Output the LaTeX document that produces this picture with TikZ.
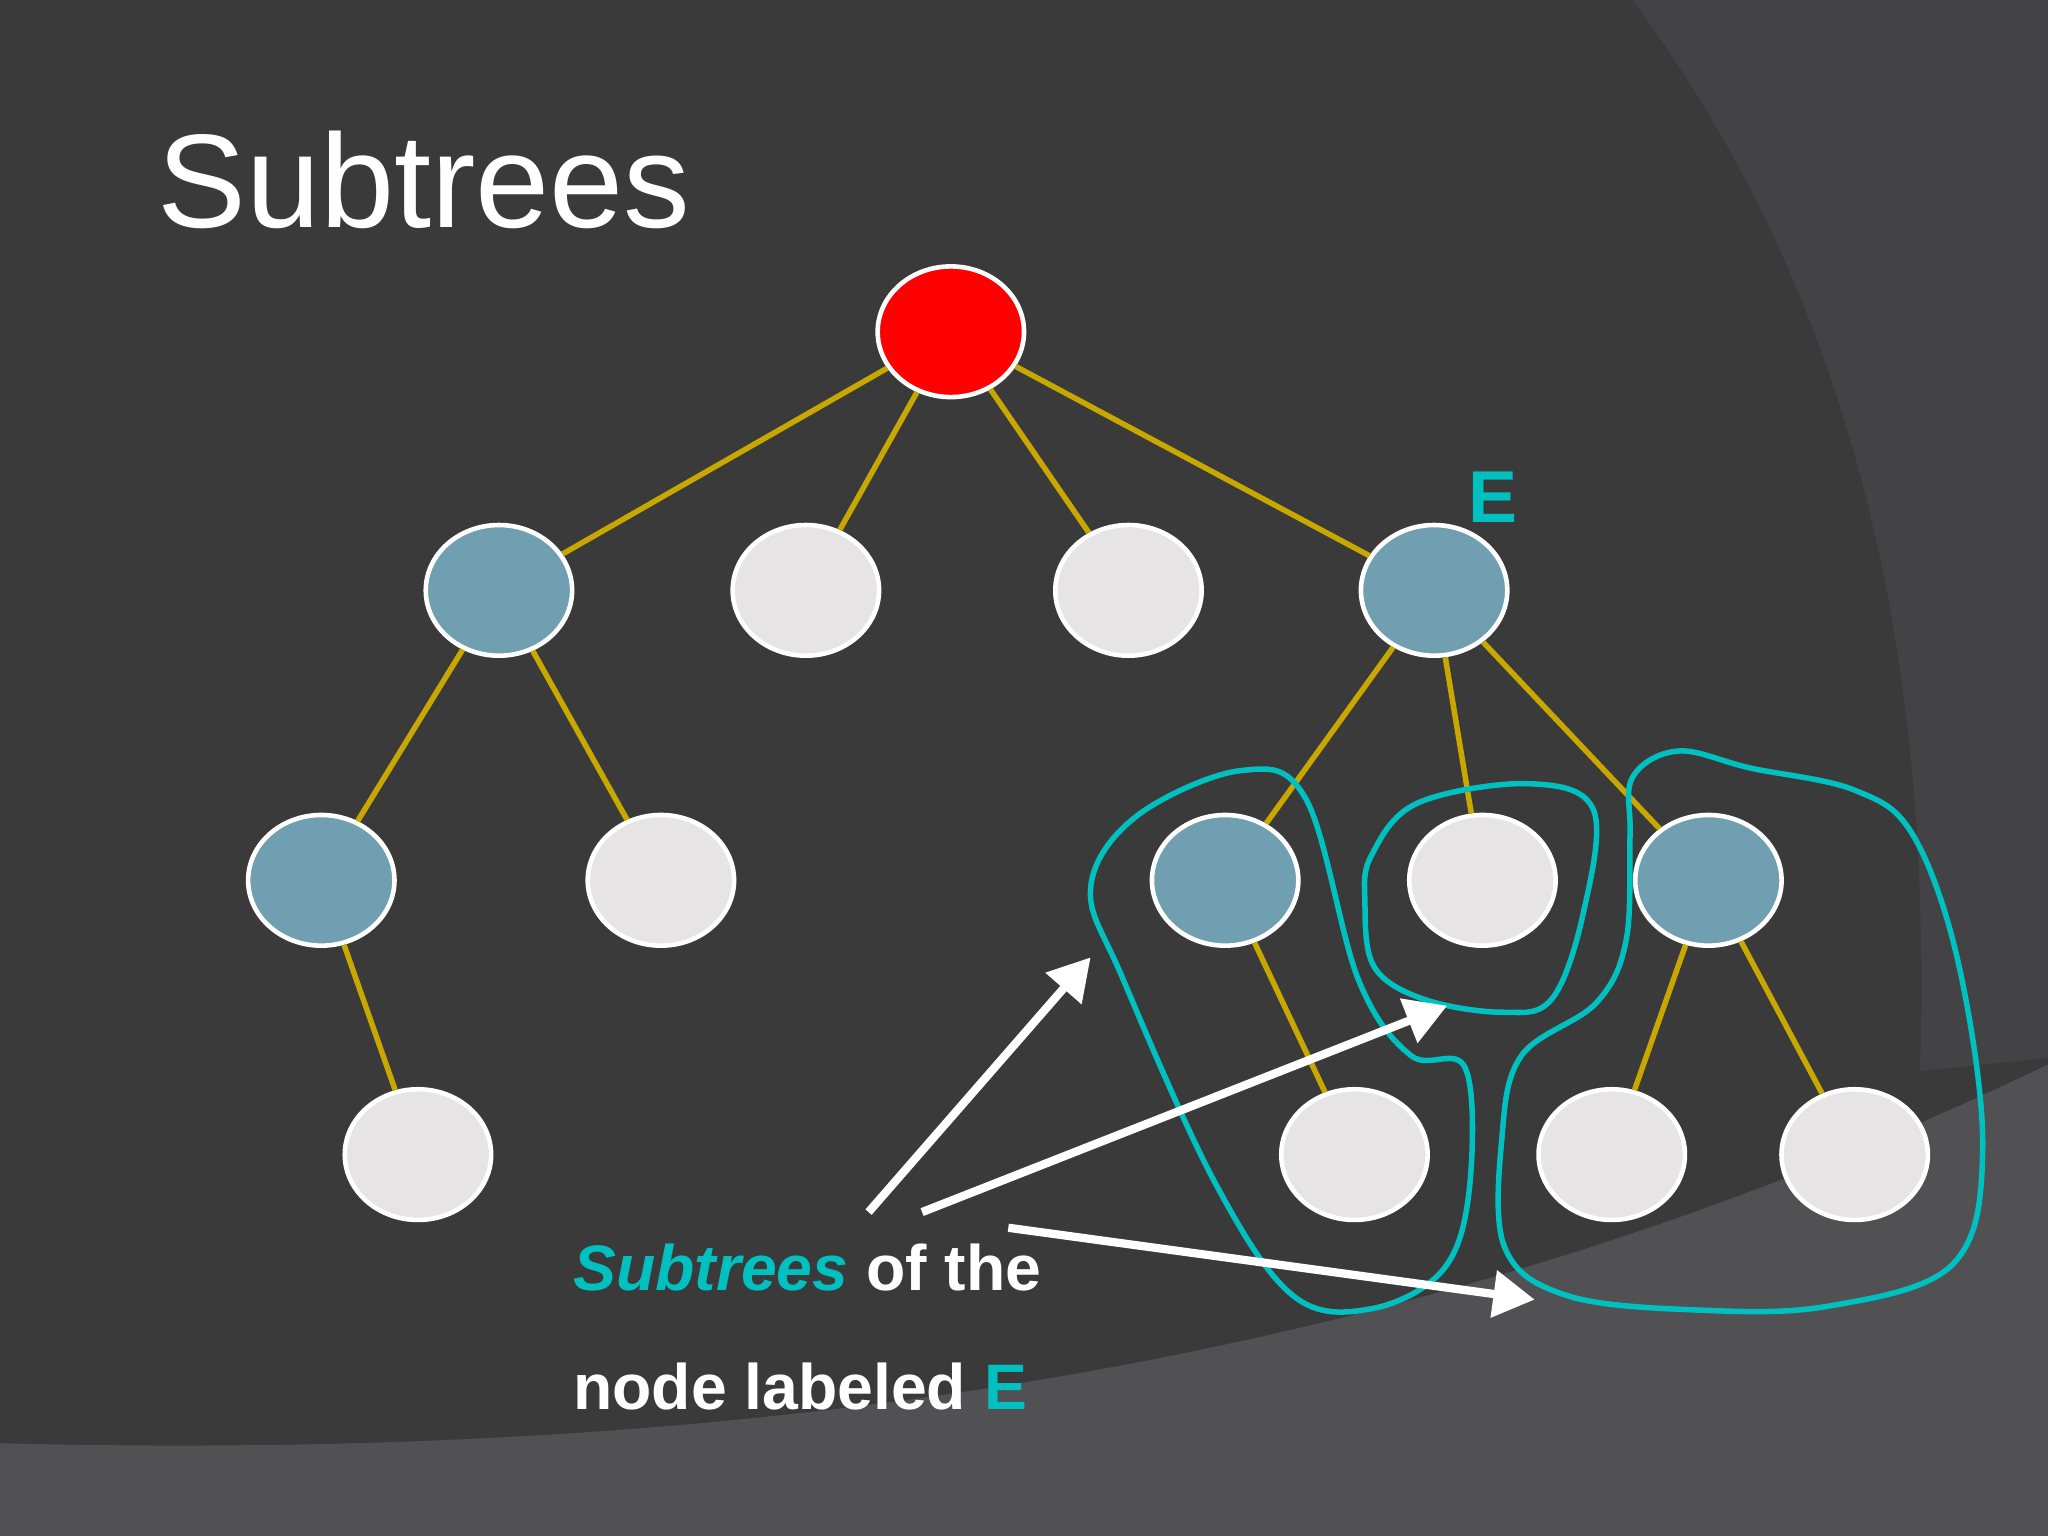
\documentclass[tikz,border=0pt]{standalone}
\usepackage{fontspec}
\setmainfont{Liberation Sans}
\usetikzlibrary{shapes.geometric,arrows.meta}
\definecolor{bg}{HTML}{3A3A3B}
\definecolor{bgr}{HTML}{434345}
\definecolor{bgb}{HTML}{515153}
\definecolor{edgec}{HTML}{C8A800}
\definecolor{nblue}{HTML}{6F9FB0}
\definecolor{ngray}{HTML}{E6E4E4}
\definecolor{cy}{HTML}{00C0C0}
\tikzset{
  tn/.style={ellipse,draw=white,line width=1pt,minimum width=1.12cm,minimum height=1.0cm,inner sep=0pt},
  bn/.style={tn,fill=nblue},
  gn/.style={tn,fill=ngray},
  ed/.style={edgec,line width=1.4mm*0.3},
  loopc/.style={cy,line width=1.2pt},
  warr/.style={white,line width=1.8pt,-{Triangle[length=9pt,width=10pt]}}
}
\begin{document}
\begin{tikzpicture}[x=0.01cm,y=-0.01cm]
\fill[bg] (0,0) rectangle (1568,1176);
\fill[bgr] (1250,0) .. controls (1420,230) and (1480,500) .. (1470,820) -- (1568,810) -- (1568,0) -- cycle;
\fill[bgb] (0,1105) .. controls (600,1120) and (1100,1040) .. (1568,815) -- (1568,1176) -- (0,1176) -- cycle;
\node[anchor=west,white,font=\fontsize{29}{34}\selectfont] (title) at (108,138) {Subtrees};
\node[tn,fill=red] (r) at (728,254) {};
\node[bn] (a) at (382,452) {};
\node[gn] (b) at (617,452) {};
\node[gn] (c) at (864,452) {};
\node[bn] (e) at (1098,452) {};
\node[bn] (a1) at (246,674) {};
\node[gn] (a2) at (506,674) {};
\node[bn] (e1) at (938,674) {};
\node[gn] (e2) at (1135,674) {};
\node[bn] (e3) at (1308,674) {};
\node[gn] (a11) at (320,884) {};
\node[gn] (e11) at (1037,884) {};
\node[gn] (e31) at (1234,884) {};
\node[gn] (e32) at (1420,884) {};
\begin{scope}[on background layer/.style={}]
\foreach \u/\v in {r/a,r/b,r/c,r/e,a/a1,a/a2,a1/a11,e/e1,e/e2,e/e3,e1/e11,e3/e31,e3/e32}
  \draw[ed] (\u) -- (\v);
\end{scope}
\node[cy,font=\bfseries\fontsize{16}{19}\selectfont] (elab) at (1143,381) {E};
\draw[loopc] plot[smooth cycle,tension=0.6] coordinates {(835,680) (870,625) (950,590) (1000,612) (1040,750) (1080,808) (1122,818) (1125,910) (1105,972) (1050,1002) (990,992) (930,905) (860,750)};
\draw[loopc] plot[smooth cycle,tension=0.6] coordinates {(1050,655) (1085,615) (1170,600) (1220,620) (1212,700) (1188,765) (1150,775) (1090,765) (1052,740) (1045,690)};
\draw[loopc] plot[smooth cycle,tension=0.6] coordinates {(1250,595) (1285,575) (1340,588) (1420,605) (1465,640) (1500,740) (1518,880) (1495,968) (1400,1000) (1300,1003) (1200,992) (1152,955) (1150,870) (1165,808) (1222,768) (1245,720) (1248,640)};
\node[white,font=\bfseries\fontsize{14}{26}\selectfont,align=left] (cap) at (618,1016) {{\color{cy}\itshape Subtrees} of the\\node labeled {\color{cy}E}};
\coordinate (s1) at (665,928); \coordinate (t1) at (835,733);
\coordinate (s2) at (706,928); \coordinate (t2) at (1108,770);
\coordinate (s3) at (772,940); \coordinate (t3) at (1175,995);
\draw[warr] (s1) -- (t1);
\draw[warr] (s2) -- (t2);
\draw[warr] (s3) -- (t3);
\end{tikzpicture}
\end{document}
